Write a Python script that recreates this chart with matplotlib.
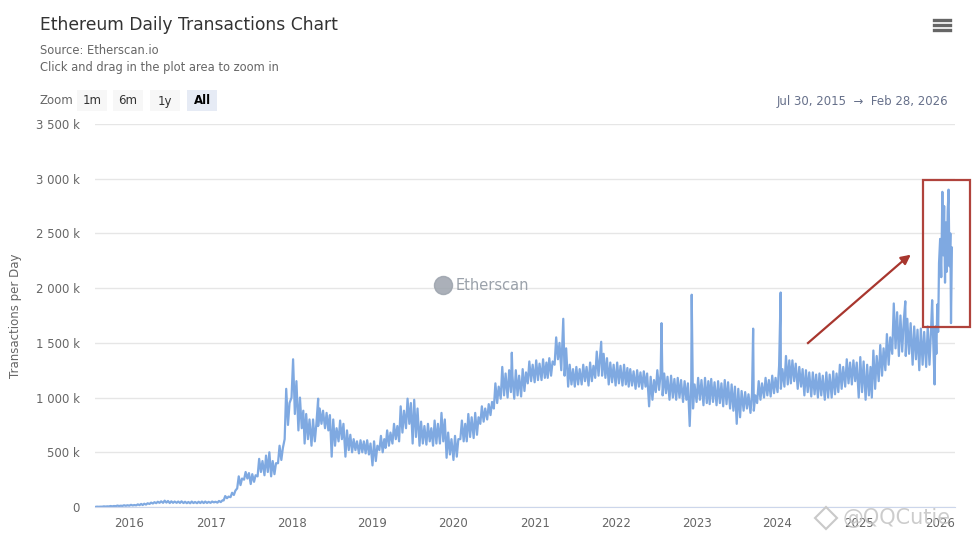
"""Ethereum daily transactions chart (Etherscan style) with highlighted 2026 surge."""
import matplotlib
matplotlib.use('Agg')
import matplotlib.pyplot as plt
import matplotlib.dates as mdates
from matplotlib.lines import Line2D
from matplotlib.patches import Rectangle
import pandas as pd

W, H = 975, 543

# daily transactions in thousands, read off the chart as four readings per month
# (Aug 2015 .. Nov 2025): two lows and two highs of the noisy band
month_lo = [
    1, 3, 5, 8, 10,                                                   # 2015 Aug-Dec
    12, 15, 18, 28, 35, 38, 36, 38, 36, 34, 35, 36,                   # 2016
    38, 40, 60, 90, 170, 250, 210, 280, 290, 280, 400, 620,           # 2017
    1000, 700, 580, 560, 740, 720, 460, 600, 460, 500, 490, 490,      # 2018
    380, 520, 540, 580, 600, 720, 580, 560, 570, 560, 580, 450,       # 2019
    430, 620, 600, 630, 760, 800, 900, 990, 1000, 990, 1010, 1130,    # 2020
    1140, 1160, 1180, 1300, 1250, 1100, 1100, 1120, 1110, 1180, 1200, 1120,  # 2021
    1110, 1110, 1100, 1080, 1080, 920, 1050, 1020, 980, 980, 960, 740,       # 2022
    960, 930, 940, 930, 920, 900, 760, 880, 860, 950, 1000, 1010,            # 2023
    1050, 1100, 1130, 1080, 1020, 1010, 1000, 980, 1000, 1050, 1100, 1120,   # 2024
    1000, 980, 1000, 1150, 1250, 1400, 1380, 1380, 1300, 1250, 1280,         # 2025 Jan-Nov
]
month_hi = [
    3, 6, 9, 13, 16,
    20, 24, 30, 40, 48, 58, 52, 50, 48, 50, 48, 50,
    50, 55, 100, 130, 280, 320, 300, 440, 470, 420, 560, 1080,
    1350, 1000, 850, 800, 900, 860, 800, 790, 700, 620, 610, 610,
    600, 650, 700, 760, 920, 990, 980, 780, 760, 790, 860, 680,
    650, 790, 850, 860, 920, 940, 1130, 1280, 1250, 1250, 1260, 1330,
    1340, 1350, 1360, 1550, 1600, 1300, 1280, 1300, 1320, 1420, 1400, 1320,
    1320, 1300, 1260, 1250, 1240, 1190, 1250, 1220, 1200, 1180, 1150, 1150,
    1180, 1180, 1170, 1150, 1160, 1120, 1080, 1050, 1040, 1150, 1180, 1200,
    1290, 1380, 1340, 1280, 1250, 1230, 1220, 1230, 1240, 1300, 1350, 1340,
    1370, 1300, 1430, 1480, 1580, 1860, 1750, 1720, 1650, 1630, 1650,
]
month_lo2 = [
    2, 4, 6, 9, 11,
    14, 17, 22, 32, 38, 40, 38, 37, 35, 36, 36, 37,
    42, 45, 80, 110, 200, 260, 230, 320, 320, 300, 430, 750,
    850, 720, 620, 600, 760, 700, 560, 620, 520, 520, 500, 480,
    420, 500, 560, 620, 680, 760, 640, 580, 600, 580, 600, 480,
    460, 600, 640, 660, 780, 840, 950, 1020, 1050, 1020, 1060, 1150,
    1160, 1180, 1200, 1350, 1200, 1120, 1120, 1150, 1150, 1200, 1180, 1140,
    1130, 1120, 1110, 1100, 1100, 980, 1070, 1040, 1000, 1000, 980, 900,
    980, 950, 960, 950, 940, 880, 820, 900, 880, 980, 1020, 1040,
    1080, 1120, 1150, 1100, 1050, 1030, 1020, 1000, 1030, 1080, 1130, 1150,
    1050, 1020, 1080, 1200, 1300, 1450, 1420, 1400, 1350, 1300, 1300,
]
month_hi2 = [
    3, 6, 9, 12, 16,
    18, 28, 34, 44, 52, 55, 50, 52, 46, 46, 50, 47,
    48, 60, 95, 150, 260, 310, 290, 420, 500, 400, 540, 950,
    1150, 880, 800, 760, 880, 840, 720, 760, 660, 600, 600, 580,
    560, 620, 680, 740, 880, 950, 900, 740, 720, 760, 800, 620,
    620, 760, 820, 820, 900, 960, 1100, 1220, 1200, 1200, 1230, 1300,
    1310, 1320, 1330, 1500, 1450, 1260, 1260, 1280, 1290, 1380, 1360, 1300,
    1290, 1270, 1240, 1230, 1220, 1160, 1220, 1190, 1170, 1160, 1130, 1120,
    1160, 1150, 1140, 1130, 1140, 1100, 1060, 1030, 1020, 1130, 1160, 1180,
    1260, 1340, 1310, 1260, 1230, 1210, 1200, 1210, 1220, 1280, 1320, 1320,
    1330, 1280, 1380, 1450, 1550, 1780, 1700, 1680, 1620, 1600, 1620,
]

# single-day spikes (thousands)
spike_dates = ['2018-05-01', '2020-09-20', '2021-05-10', '2021-10-28', '2022-07-27',
               '2022-12-10', '2023-09-13', '2024-01-15', '2025-07-30', '2025-11-28']
spike_vals = [990, 1410, 1720, 1510, 1680, 1940, 1630, 1960, 1880, 1890]

# Dec 2025 .. Feb 2026 surge, read at a finer step (thousands)
tail_dates = ['2025-12-03', '2025-12-09', '2025-12-13', '2025-12-17', '2025-12-21',
              '2025-12-25', '2025-12-29', '2026-01-03', '2026-01-08', '2026-01-13',
              '2026-01-17', '2026-01-21', '2026-01-25', '2026-01-29', '2026-02-02',
              '2026-02-06', '2026-02-10', '2026-02-14', '2026-02-18', '2026-02-21',
              '2026-02-25']
tail_vals = [1500, 1120, 1650, 1400, 1850, 1600, 2230, 2450, 2100, 2880,
             2300, 2750, 2050, 2600, 2150, 2700, 2900, 2200, 2500, 1680, 2370]

y_ticks = [0, 500, 1000, 1500, 2000, 2500, 3000, 3500]
y_tick_labels = ['0', '500 k', '1 000 k', '1 500 k', '2 000 k', '2 500 k', '3 000 k', '3 500 k']
zoom_buttons = ['1m', '6m', '1y', 'All']


def fx(x):
    return x / W


def fy(y):
    return 1 - y / H


months = pd.date_range('2015-08-01', periods=len(month_lo), freq='MS')
series = pd.concat([
    pd.Series(month_lo, index=months),
    pd.Series(month_hi, index=months + pd.Timedelta(days=7)),
    pd.Series(month_lo2, index=months + pd.Timedelta(days=15)),
    pd.Series(month_hi2, index=months + pd.Timedelta(days=22)),
    pd.Series(spike_vals, index=pd.to_datetime(spike_dates)),
    pd.Series(tail_vals, index=pd.to_datetime(tail_dates)),
]).sort_index()

fig = plt.figure(figsize=(W / 100, H / 100), dpi=100)
fig.patch.set_facecolor('white')
ax = fig.add_axes([fx(95), fy(507), fx(955) - fx(95), fy(124) - fy(507)])

ax.plot(series.index, series.values, color='#7fa9e1', lw=1.6, solid_joinstyle='round')

ax.set_ylim(0, 3500)
ax.set_xlim(pd.Timestamp('2015-07-30'), pd.Timestamp('2026-03-11'))
ax.set_yticks(y_ticks)
ax.set_yticklabels(y_tick_labels)
ax.xaxis.set_major_locator(mdates.YearLocator())
ax.xaxis.set_major_formatter(mdates.DateFormatter('%Y'))
ax.tick_params(axis='both', length=0, labelsize=8.5, colors='#666666')
ax.tick_params(axis='y', pad=11)
ax.tick_params(axis='x', pad=7)
for s in ['top', 'right', 'left']:
    ax.spines[s].set_visible(False)
ax.spines['bottom'].set_color('#ccd6eb')
ax.grid(axis='y', color='#e6e6e6', lw=1)
ax.set_axisbelow(True)
ax.set_ylabel('Transactions per Day', fontsize=8.5, color='#666666')
ax.yaxis.set_label_coords((22 - 95) / 860, 0.5)

# header
fig.text(fx(40), fy(25), 'Ethereum Daily Transactions Chart', fontsize=12.3, color='#333333', va='center')
fig.text(fx(40), fy(51), 'Source: Etherscan.io', fontsize=8.3, color='#666666', va='center')
fig.text(fx(40), fy(67), 'Click and drag in the plot area to zoom in', fontsize=8.3, color='#666666', va='center')

# range selector
fig.text(fx(40), fy(101), 'Zoom', fontsize=8.5, color='#666666', va='center')
btn_x = [77, 113, 150, 187]
for bx, lab in zip(btn_x, zoom_buttons):
    sel = lab == 'All'
    fig.add_artist(Rectangle((fx(bx), fy(111)), 30 / W, 21 / H, transform=fig.transFigure,
                             fc='#e6ebf5' if sel else '#f7f7f7', ec='none'))
    fig.text(fx(bx + 15), fy(101), lab, fontsize=8.5, ha='center', va='center',
             color='#000000' if sel else '#333333', fontweight='bold' if sel else 'normal')
fig.text(fx(948), fy(101), 'Jul 30, 2015  \u2192  Feb 28, 2026', fontsize=8.5,
         color='#66708a', ha='right', va='center')

# menu icon
for yy in [20, 25, 30]:
    fig.add_artist(Line2D([fx(934), fx(950)], [fy(yy), fy(yy)], color='#666666', lw=2.4,
                          transform=fig.transFigure))

# Etherscan watermark
fig.add_artist(Line2D([fx(443)], [fy(285)], marker='o', ms=13, color='#9ca3ad',
                      transform=fig.transFigure, alpha=0.85))
fig.text(fx(456), fy(285), 'Etherscan', fontsize=10.5, color='#8a929c', va='center', alpha=0.85)

# highlight box + arrow
fig.add_artist(Rectangle((fx(923), fy(327)), 47 / W, 147 / H, transform=fig.transFigure,
                         fill=False, ec='#b0433c', lw=1.6))
fig.add_artist(Line2D([fx(808), fx(905)], [fy(343), fy(259)], color='#a8362e', lw=1.6,
                      transform=fig.transFigure))
ax.annotate('', xy=(fx(913), fy(253)), xytext=(fx(900), fy(263)),
            xycoords='figure fraction', textcoords='figure fraction',
            arrowprops=dict(arrowstyle='-|>', color='#a8362e', lw=1.6, mutation_scale=14))

# user watermark (sits over the last year labels, as in the screenshot)
fig.add_artist(Line2D([fx(826)], [fy(518)], marker='D', ms=11, mfc='none', mec='#c9c9c9',
                      mew=1.5, transform=fig.transFigure))
fig.text(fx(843), fy(518), '@QQCutie', fontsize=15, color='#c4c4c4', va='center', alpha=0.85)

fig.savefig('out.png', dpi=100)
